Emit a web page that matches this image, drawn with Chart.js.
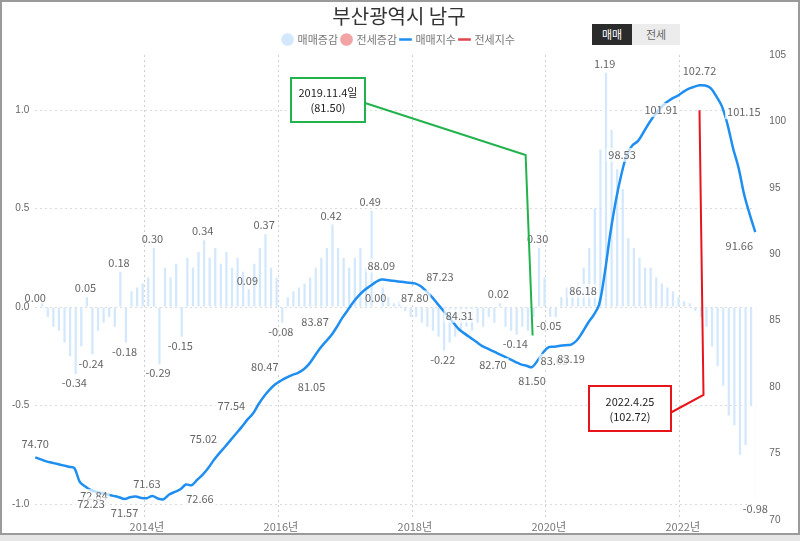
<!DOCTYPE html>
<html><head><meta charset="utf-8">
<script src="https://cdn.jsdelivr.net/npm/chart.js@4"></script>
<style>
body{margin:0;background:#e6e6e6;font-family:"Noto Sans CJK KR","Noto Sans",sans-serif}
#wrap{position:absolute;left:0;top:0;width:796px;height:531px;border:2px solid #9a9a9a;background:#fff}
#c{position:absolute;left:0;top:0}
.btn{position:absolute;top:22px;height:21px;line-height:21px;text-align:center;font-size:11px}
</style></head><body>
<div id="wrap"><canvas id="c" width="796" height="531"></canvas>
<div class="btn" style="left:590px;width:40px;background:#2b2b2b;color:#fff">매매</div>
<div class="btn" style="left:630px;width:48px;background:#ececec;color:#666">전세</div>
</div>
<script>
const startYear=2012,startMonth=5;
const indexValues=[74.70,74.55,74.4,74.3,74.2,74.1,74.0,73.9,
72.84,72.5,72.23,72.1,72.0,71.9,71.8,71.7,71.57,71.7,71.75,71.65,
71.63,71.8,71.6,71.55,71.9,72.1,72.3,72.66,72.6,73.0,73.4,73.9,
74.5,75.02,75.5,76.0,76.5,77.0,77.54,78.0,78.7,79.3,79.8,80.2,
80.47,80.7,80.9,81.05,81.3,81.7,82.3,82.9,83.4,83.87,84.5,85.2,
85.8,86.4,86.9,87.3,87.6,87.9,88.09,88.05,88.0,87.95,87.9,87.85,
87.80,87.6,87.23,86.8,86.3,85.8,85.3,84.8,84.31,84.0,83.7,83.4,
83.1,82.9,82.70,82.5,82.3,82.1,81.9,81.7,81.6,81.50,82.0,82.6,
83.0,83.03,83.1,83.15,83.19,83.5,84.1,84.8,85.4,86.18,88.5,91.5,
94.0,96.0,97.5,98.2,98.53,99.2,99.9,100.5,101.0,101.4,101.7,101.91,
102.2,102.45,102.6,102.72,102.7,102.5,101.9,101.15,99.8,98.0,96.5,94.5,
93.0,91.66];
const changeValues=[0.00,0.02,-0.05,-0.1,-0.12,-0.18,-0.25,-0.34,
-0.2,0.05,-0.24,-0.12,-0.08,-0.05,-0.1,0.18,-0.18,0.08,0.1,0.12,
0.15,0.30,-0.29,0.2,0.15,0.22,-0.15,0.25,0.2,0.28,0.34,0.25,
0.3,0.22,0.28,0.2,0.25,0.18,0.09,0.22,0.3,0.37,0.2,0.15,
-0.08,0.05,0.08,0.1,0.12,0.15,0.2,0.25,0.3,0.42,0.3,0.25,
0.2,0.25,0.3,0.2,0.49,0.00,0.1,0.05,0.02,0.03,-0.02,-0.05,
-0.05,-0.08,-0.1,-0.12,-0.15,-0.22,-0.18,-0.15,-0.12,-0.1,-0.12,-0.08,
-0.1,-0.05,-0.08,0.02,-0.1,-0.12,-0.14,-0.1,-0.12,-0.05,0.30,0.15,
-0.05,-0.05,0.05,0.1,0.1,0.12,0.2,0.3,0.5,0.8,1.19,0.9,
0.7,0.6,0.35,0.3,0.25,0.2,0.2,0.15,0.12,0.1,0.08,0.05,
0.03,0.02,-0.02,-0.05,-0.1,-0.2,-0.3,-0.4,-0.55,-0.6,-0.75,-0.7,
-0.5,-0.98];
const months=indexValues.map((_,i)=>{const m=startMonth-1+i;return (startYear+Math.floor(m/12))+'-'+String(m%12+1).padStart(2,'0');});
const barLabelMonths=['2012-05','2013-02','2012-12','2013-03','2013-08','2013-09','2014-02','2014-03','2014-07','2014-11','2015-07','2015-10','2016-01','2016-10','2017-05','2017-06','2018-06','2019-04','2019-07','2019-11','2020-01','2020-11','2023-02'];
const lineLabels=[['2012-05','a'],['2013-01','br'],['2013-03','b'],['2013-09','b'],['2014-01','a'],['2014-08','br'],['2015-02','al'],['2015-07','al'],['2016-01','al'],['2016-04','br'],['2016-10','al'],['2017-07','a'],['2018-01','b'],['2018-03','ar'],['2018-09','a'],['2019-03','b'],['2019-10','b'],['2020-02','b'],['2020-05','b'],['2020-10','al'],['2021-05','bl'],['2021-12','bl'],['2022-04','a'],['2022-08','r'],['2023-02','bl']];
const ann=[{m:'2019-11',text:['2019.11.4일','(81.50)'],color:'#22b24c',box:[289,76,74,44],type:'g'},
{m:'2022-04',text:['2022.4.25','(102.72)'],color:'#e8141b',box:[587,384,82,45],type:'r'}];

const labelPlugin={id:'lbl',afterDatasetsDraw(ch){
 const c=ch.ctx,xs=ch.scales.x,yl=ch.scales.y,yr=ch.scales.y1;
 c.save();c.font='11px "Noto Sans CJK KR","Noto Sans",sans-serif';c.textAlign='center';c.textBaseline='middle';
 barLabelMonths.forEach(m=>{const i=months.indexOf(m);const v=changeValues[i];const x=xs.getPixelForValue(i);
  const y=yl.getPixelForValue(v)+(v>=0?-9:9);c.fillStyle='#666';c.fillText(v.toFixed(2),x,y);});
 lineLabels.forEach(([m,p])=>{const i=months.indexOf(m);const v=indexValues[i];let x=xs.getPixelForValue(i),y=yr.getPixelForValue(v);
  if(p.includes('a'))y-=14;if(p.includes('b'))y+=14;if(p==='r'){x+=22;y+=6;}
  if(p.includes('l')&&p.length>1)x-=16;if(p.includes('r')&&p.length>1)x+=14;
  const t=v.toFixed(2),w=c.measureText(t).width;c.fillStyle='rgba(255,255,255,0.7)';c.fillRect(x-w/2-2,y-7,w+4,14);
  c.fillStyle='#666';c.fillText(t,x,y);});
 ann.forEach(a=>{const i=months.indexOf(a.m);const px=xs.getPixelForValue(i),py=yr.getPixelForValue(indexValues[i]);
  const [bx,by,bw,bh]=a.box;c.strokeStyle=a.color;c.lineWidth=2;c.beginPath();
  if(a.type==='g'){c.moveTo(bx+bw,by+bh/2+3);c.lineTo(px-12,153);c.lineTo(px-5,py-25);}
  else{c.moveTo(bx+bw,by+bh/2+4);c.lineTo(px+4,393);c.lineTo(px,py+25);}
  c.stroke();c.fillStyle='#fff';c.fillRect(bx,by,bw,bh);c.strokeRect(bx,by,bw,bh);
  c.fillStyle='#222';c.font='11px "Noto Sans CJK KR","Noto Sans",sans-serif';
  c.fillText(a.text[0],bx+bw/2,by+bh/2-7);c.fillText(a.text[1],bx+bw/2,by+bh/2+8);});
 c.restore();}};

new Chart(document.getElementById('c'),{
 data:{labels:months,datasets:[
  {type:'bar',label:'매매증감',data:changeValues,yAxisID:'y',backgroundColor:'#d3e8fc',barPercentage:0.8,categoryPercentage:1,order:2,pointStyle:'circle'},
  {type:'bar',label:'전세증감',data:[],yAxisID:'y',backgroundColor:'#f2a3a3',pointStyle:'circle'},
  {type:'line',label:'매매지수',data:indexValues,yAxisID:'y1',borderColor:'#1e8ff0',borderWidth:2.5,pointRadius:0,tension:0.35,order:1,pointStyle:'line'},
  {type:'line',label:'전세지수',data:[],yAxisID:'y1',borderColor:'#e0454c',borderWidth:2.5,pointRadius:0,pointStyle:'line'}]},
 options:{responsive:false,animation:false,
  layout:{padding:{left:4,right:6,top:0,bottom:0}},
  plugins:{title:{display:true,text:'부산광역시 남구',color:'#333',font:{size:20,family:'"Noto Sans CJK KR"',weight:'normal'},padding:{top:2,bottom:2}},
   legend:{labels:{usePointStyle:true,boxWidth:9,boxHeight:9,color:'#777',font:{size:11,family:'"Noto Sans CJK KR"'},padding:4,
    generateLabels(ch){return ch.data.datasets.map((d,i)=>({text:d.label,fillStyle:d.type==='bar'?d.backgroundColor:d.borderColor,strokeStyle:d.type==='bar'?d.backgroundColor:d.borderColor,lineWidth:d.type==='bar'?0:2.5,pointStyle:d.type==='bar'?'circle':'line',fontColor:'#777',datasetIndex:i}));}},padding:{bottom:3}},tooltip:{enabled:false}},
  scales:{
   x:{offset:false,grid:{color:c=>{const l=months[c.index]||'';const y=+l.slice(0,4);return l.endsWith('-01')&&y%2===0?'#cfcfcf':'rgba(0,0,0,0)';},drawTicks:false},border:{display:false,dash:[2,3]},
    ticks:{autoSkip:false,maxRotation:0,color:'#777',font:{size:11,family:'"Noto Sans CJK KR"'},padding:0,callback(v,i){const l=months[i];const y=+l.slice(0,4);return l.endsWith('-01')&&y%2===0?y+'년':'';}}},
   y:{position:'left',min:-1.08,max:1.28,afterBuildTicks(s){s.ticks=[-1,-0.5,0,0.5,1].map(v=>({value:v}));},
    grid:{color:'#dcdcdc',drawTicks:false},border:{display:false,dash:[2,3]},ticks:{color:'#666',font:{size:10},padding:6,callback:v=>v.toFixed(1)}},
   y1:{position:'right',min:70,max:105,afterBuildTicks(s){s.ticks=[70,75,80,85,90,95,100,105].map(v=>({value:v}));},grid:{display:false},border:{display:false},ticks:{color:'#666',font:{size:10},padding:6}}}},
 plugins:[labelPlugin]});
</script></body></html>
